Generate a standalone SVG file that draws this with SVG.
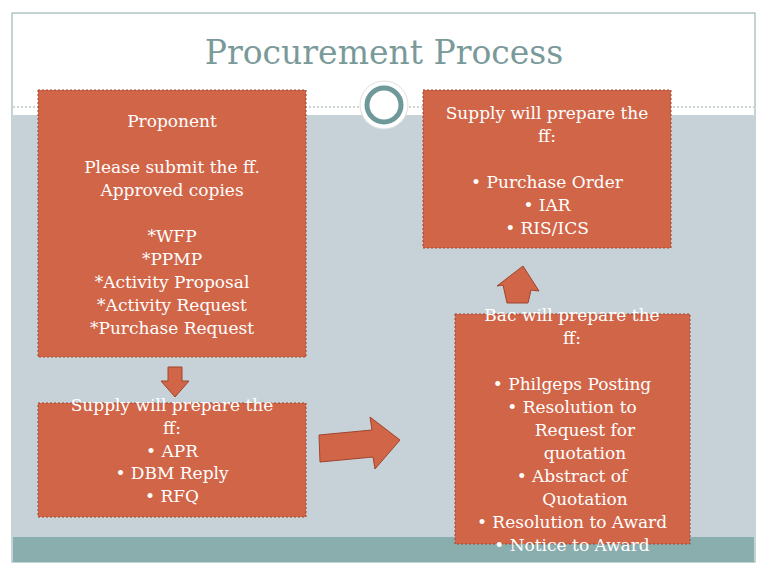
<svg xmlns="http://www.w3.org/2000/svg" width="768" height="576" viewBox="0 0 768 576">
<defs><style>
.box{fill:#d16548;stroke:#a0442c;stroke-width:1;stroke-dasharray:2 2}
.t{font-family:"DejaVu Serif",serif;font-size:17px;fill:#fff;text-anchor:middle}
.arr{fill:#d16548;stroke:#a0442c;stroke-width:1}
</style></defs>
<rect width="768" height="576" fill="#fff"/>
<rect x="12" y="13" width="743" height="549" fill="#fff" stroke="#8aa9a9"/>
<rect x="13" y="115" width="741" height="422" fill="#c6d2d8"/>
<rect x="13" y="537" width="741" height="25" fill="#8aadad"/>
<line x1="13" y1="107" x2="754" y2="107" stroke="#9aaaaa" stroke-dasharray="2 2"/>
<text x="384" y="64" font-family="DejaVu Serif,serif" font-size="33" fill="#7a9a9a" text-anchor="middle">Procurement Process</text>
<g id="circle"><circle cx="384" cy="105" r="24" fill="#fff" stroke="#e0e0e0"/><circle cx="384" cy="105" r="17" fill="#fff" stroke="#6f9898" stroke-width="5"/></g>
<g id="connectors">
<polygon class="arr" points="168,367 182,367 182,381 189,381 175,397 161,381 168,381"/>
<polygon class="arr" points="319,435 372,430 370,417 400,440 375,469 373,457 320,462"/>
<polygon class="arr" points="507,303 503,285 497,286 523,266 539,291 531,290 528,303"/>
</g>
<g id="proponent"><rect class="box" x="38" y="90" width="268" height="267"/>
<text class="t"><tspan x="172" y="127">Proponent</tspan><tspan x="172" y="173">Please submit the ff.</tspan><tspan x="172" y="196">Approved copies</tspan><tspan x="172" y="242">*WFP</tspan><tspan x="172" y="265">*PPMP</tspan><tspan x="172" y="288">*Activity Proposal</tspan><tspan x="172" y="311">*Activity Request</tspan><tspan x="172" y="334">*Purchase Request</tspan></text></g>
<g id="supply1"><rect class="box" x="38" y="403" width="268" height="114"/>
<text class="t"><tspan x="172" y="411">Supply will prepare the</tspan><tspan x="172" y="434">ff:</tspan><tspan x="172" y="457">•   APR</tspan><tspan x="172" y="479">•   DBM Reply</tspan><tspan x="172" y="502">•   RFQ</tspan></text></g>
<g id="supply2"><rect class="box" x="423" y="90" width="248" height="158"/>
<text class="t"><tspan x="547" y="119">Supply will prepare the</tspan><tspan x="547" y="142">ff:</tspan><tspan x="547" y="188">•   Purchase Order</tspan><tspan x="547" y="211">•   IAR</tspan><tspan x="547" y="234">•   RIS/ICS</tspan></text></g>
<g id="bac"><rect class="box" x="455" y="314" width="235" height="230"/>
<text class="t"><tspan x="572" y="321">Bac will prepare the</tspan><tspan x="572" y="344">ff:</tspan><tspan x="572" y="390">•   Philgeps Posting</tspan><tspan x="572" y="413">•   Resolution to</tspan><tspan x="585" y="436">Request for</tspan><tspan x="585" y="459">quotation</tspan><tspan x="572" y="482">•   Abstract of</tspan><tspan x="585" y="505">Quotation</tspan><tspan x="572" y="528">•   Resolution to Award</tspan><tspan x="572" y="551">•   Notice to Award</tspan></text></g>
</svg>
